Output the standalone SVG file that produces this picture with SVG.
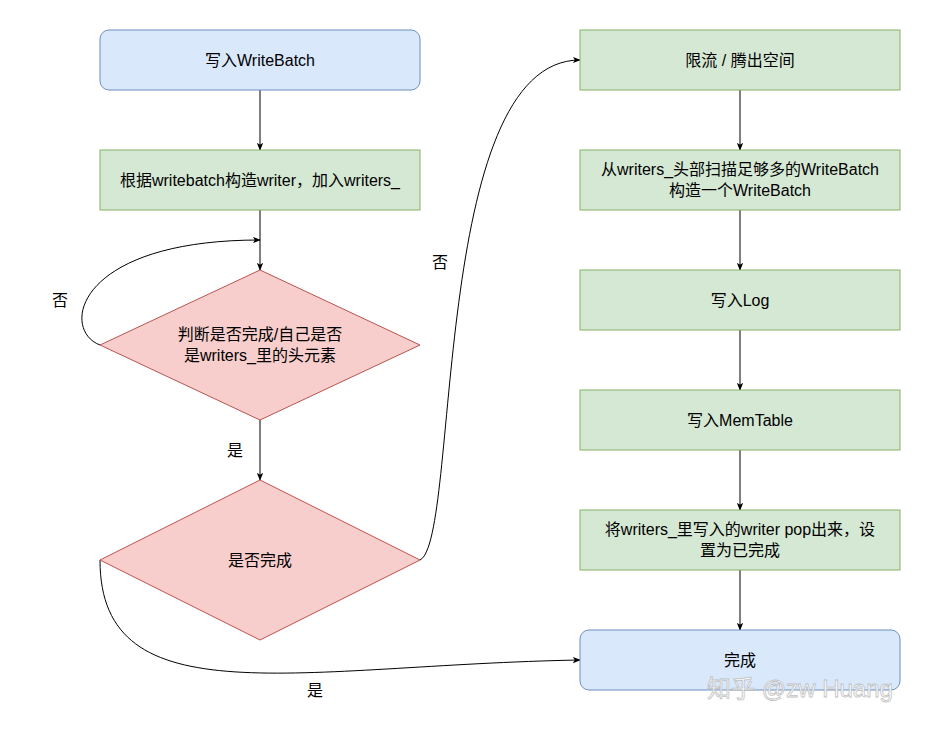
<svg xmlns="http://www.w3.org/2000/svg" width="931" height="731" viewBox="0 0 931 731">
<style>
text{font-family:"Liberation Sans","Noto Sans CJK SC",sans-serif;font-size:16px;fill:#000;text-anchor:middle;dominant-baseline:central}
.blue{fill:#dae8fc;stroke:#6c8ebf;stroke-width:1}
.green{fill:#d5e8d4;stroke:#82b366;stroke-width:1}
.red{fill:#f8cecc;stroke:#b85450;stroke-width:1}
.e{fill:none;stroke:#000;stroke-width:1;marker-end:url(#a)}
</style>
<defs><marker id="a" viewBox="0 0 10 10" refX="9" refY="5" markerWidth="8" markerHeight="8" orient="auto" markerUnits="userSpaceOnUse"><path d="M0,1 L10,5 L0,9 L2.5,5 Z" fill="#000"/></marker></defs>
<rect width="931" height="731" fill="#fff"/>
<g id="connectors">
<path class="e" d="M260,90 V150"/>
<path class="e" d="M260,210 V270"/>
<path class="e" d="M260,420 V480"/>
<path class="e" d="M100,345 C60,330 75,240 260,240"/>
<path class="e" d="M420,560 C460,540 430,60 580,60"/>
<path class="e" d="M100,560 C100,720 300,665 580,660"/>
<path class="e" d="M740,90 V150"/>
<path class="e" d="M740,210 V270"/>
<path class="e" d="M740,330 V390"/>
<path class="e" d="M740,450 V510"/>
<path class="e" d="M740,570 V630"/>
<text x="60" y="300">否</text>
<text x="440" y="262">否</text>
<text x="235" y="450">是</text>
<text x="315" y="690">是</text>
</g>
<g id="n1"><rect class="blue" x="100" y="30" width="320" height="60" rx="9"/><text x="260" y="60">写入WriteBatch</text></g>
<g id="n2"><rect class="green" x="100" y="150" width="320" height="60"/><text x="260" y="180">根据writebatch构造writer，加入writers_</text></g>
<g id="n3"><polygon class="red" points="260,270 420,345 260,420 100,345"/><text x="260" y="334">判断是否完成/自己是否</text><text x="260" y="355">是writers_里的头元素</text></g>
<g id="n4"><polygon class="red" points="260,480 420,560 260,640 100,560"/><text x="260" y="560">是否完成</text></g>
<g id="n5"><rect class="green" x="580" y="30" width="320" height="60"/><text x="740" y="60">限流 / 腾出空间</text></g>
<g id="n6"><rect class="green" x="580" y="150" width="320" height="60"/><text x="740" y="169">从writers_头部扫描足够多的WriteBatch</text><text x="740" y="190">构造一个WriteBatch</text></g>
<g id="n7"><rect class="green" x="580" y="270" width="320" height="60"/><text x="740" y="300">写入Log</text></g>
<g id="n8"><rect class="green" x="580" y="390" width="320" height="60"/><text x="740" y="420">写入MemTable</text></g>
<g id="n9"><rect class="green" x="580" y="510" width="320" height="60"/><text x="740" y="529">将writers_里写入的writer pop出来，设</text><text x="740" y="550">置为已完成</text></g>
<g id="n10"><rect class="blue" x="580" y="630" width="320" height="60" rx="9"/><text x="740" y="660">完成</text></g>
<text x="800" y="688" style="font-size:24px;fill:#fff;stroke:#bbb;stroke-width:0.8;opacity:0.9">知乎 @zw Huang</text>
</svg>
